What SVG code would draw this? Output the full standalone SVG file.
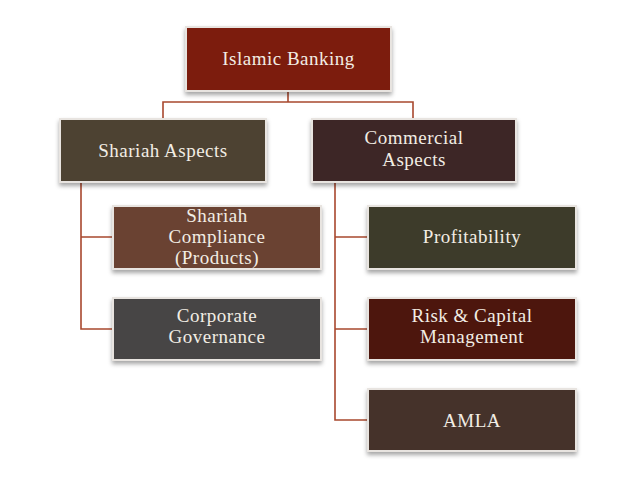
<svg xmlns="http://www.w3.org/2000/svg" width="638" height="478" viewBox="0 0 638 478">
<defs>
<filter id="sh" x="-10%" y="-10%" width="120%" height="130%"><feDropShadow dx="0" dy="3" stdDeviation="2" flood-color="#000" flood-opacity="0.35"/></filter>
<style>
.b{stroke:#e8e4e0;stroke-width:2;filter:url(#sh)}
.t{font-family:"Liberation Serif",serif;font-size:19px;fill:#f2ede4;text-anchor:middle;letter-spacing:0.5px}
.c{fill:none;stroke:#a8482e;stroke-width:1.6}
</style>
</defs>
<rect width="638" height="478" fill="#fff"/>
<g id="connectors">
<path class="c" d="M288 91V102M163 119V102H413V119"/>
<path class="c" d="M81 182V329H113M81 237H113"/>
<path class="c" d="M335 182V420H368M335 237H368M335 329H368"/>
</g>
<g id="n1"><rect class="b" x="186" y="27" width="205" height="64" fill="#7b1a10"/><text class="t" x="288.5" y="65">Islamic Banking</text></g>
<g id="n2"><rect class="b" x="60" y="119" width="206" height="63" fill="#4d4330"/><text class="t" x="163" y="157">Shariah Aspects</text></g>
<g id="n3"><rect class="b" x="312" y="119" width="204" height="63" fill="#3d2828"/><text class="t" x="414" y="144">Commercial</text><text class="t" x="414" y="166">Aspects</text></g>
<g id="n4"><rect class="b" x="113" y="206" width="208" height="63" fill="#6b4333"/><text class="t" x="217" y="222">Shariah</text><text class="t" x="217" y="243">Compliance</text><text class="t" x="217" y="264">(Products)</text></g>
<g id="n5"><rect class="b" x="113" y="298" width="208" height="62" fill="#464444"/><text class="t" x="217" y="322">Corporate</text><text class="t" x="217" y="343">Governance</text></g>
<g id="n6"><rect class="b" x="368" y="206" width="208" height="63" fill="#3e3a2c"/><text class="t" x="472" y="243">Profitability</text></g>
<g id="n7"><rect class="b" x="368" y="298" width="208" height="62" fill="#4d1410"/><text class="t" x="472" y="322">Risk &amp; Capital</text><text class="t" x="472" y="343">Management</text></g>
<g id="n8"><rect class="b" x="368" y="389" width="208" height="62" fill="#45302a"/><text class="t" x="472" y="427">AMLA</text></g>
</svg>
